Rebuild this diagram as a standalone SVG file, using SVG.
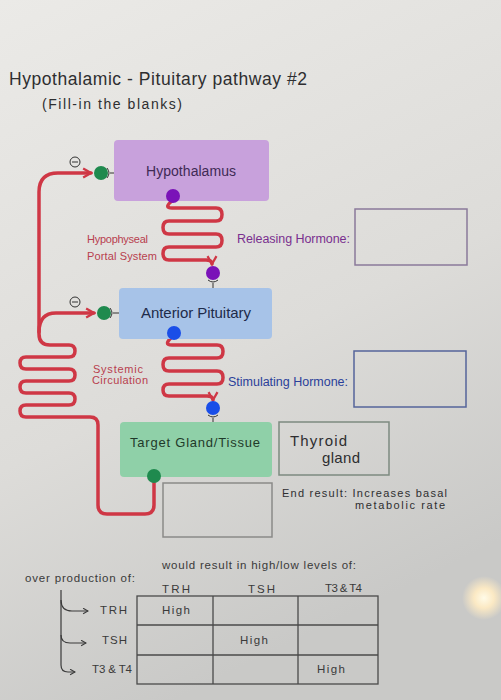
<svg xmlns="http://www.w3.org/2000/svg" width="501" height="700" viewBox="0 0 501 700">
<defs>
<linearGradient id="bg" x1="0" y1="0" x2="0.35" y2="1">
<stop offset="0" stop-color="#ebeae7"/>
<stop offset="0.6" stop-color="#dddcd9"/>
<stop offset="1" stop-color="#c9c9c7"/>
</linearGradient>
<radialGradient id="glare">
<stop offset="0" stop-color="#fffbe8"/>
<stop offset="0.45" stop-color="#fbe9c4"/>
<stop offset="1" stop-color="#fbe9c4" stop-opacity="0"/>
</radialGradient>
<marker id="arr" viewBox="0 0 10 10" refX="8" refY="5" markerWidth="3.2" markerHeight="3.2" orient="auto" markerUnits="strokeWidth">
<polyline points="1,1 8,5 1,9" fill="none" stroke="#cf3745" stroke-width="2"/>
</marker>
<marker id="arrk" viewBox="0 0 10 10" refX="8" refY="5" markerWidth="7" markerHeight="7" orient="auto" markerUnits="userSpaceOnUse">
<polyline points="1,1 8,5 1,9" fill="none" stroke="#3a3a3a" stroke-width="1.5"/>
</marker>
</defs>
<style>
text{font-family:"Liberation Sans","Open Sans",sans-serif;}
.red{fill:none;stroke:#cf3745;stroke-width:3.5;stroke-linecap:round;stroke-linejoin:round;}
.blk{fill:#2e2e30;}
.rlab{fill:#b8404e;font-size:11px;}
.blank{fill:none;stroke-width:1.5;}
.grid{fill:none;stroke:#4a4a4a;stroke-width:1.3;}
.tbl{fill:#3a3a3a;font-size:11.5px;}
.rec{fill:none;stroke:#333;stroke-width:1;}
</style>
<rect width="501" height="700" fill="url(#bg)"/>
<circle cx="484" cy="598" r="22" fill="url(#glare)"/>

<g id="title">
<text x="9" y="85" class="blk" font-size="17.5" textLength="298">Hypothalamic - Pituitary pathway #2</text>
<text x="42" y="109" class="blk" font-size="14" textLength="140">(Fill-in the blanks)</text>
</g>

<g id="connectors">
<path class="red" marker-end="url(#arr)" d="M173 200 Q163 208 172 208 L216 208 Q222 208 222 214.5 Q222 221 216 221 L169 221 Q163 221 163 227.5 Q163 234 169 234 L216 234 Q222 234 222 240.5 Q222 247 216 247 L169 247 Q163 247 163 253.5 Q163 260 169 260 L206 260 Q212 260 212 264"/>
<path class="red" marker-end="url(#arr)" d="M172 337 Q163 345 172 345 L217 345 Q223 345 223 351.5 Q223 358 217 358 L169 358 Q163 358 163 364.5 Q163 371 169 371 L217 371 Q223 371 223 377.5 Q223 384 217 384 L169 384 Q163 384 163 390 Q163 396 169 396 L207 396 Q213 396 213 400"/>
<path class="red" marker-end="url(#arr)" d="M154 482 L154 505 Q154 514 145 514 L107 514 Q98 514 98 505 L98 425 Q98 417 90 417 L26 417 Q20 417 20 411 Q20 405 26 405 L69 405 Q75 405 75 399 Q75 393 69 393 L26 393 Q20 393 20 387 Q20 381 26 381 L69 381 Q75 381 75 375 Q75 369 69 369 L26 369 Q20 369 20 363 Q20 357 26 357 L69 357 Q75 357 75 351 Q75 345 69 345 L50 345 Q39 345 39 334 L39 192 Q39 173 58 173 L91 173"/>
<path class="red" marker-end="url(#arr)" d="M39 332 Q39 313 56 313 L94 313"/>
</g>

<g id="hypothalamus">
<rect x="114" y="140" width="155" height="61" rx="4" fill="#c8a1dc"/>
<text x="191" y="176" text-anchor="middle" font-size="14" fill="#3f2a55" textLength="90">Hypothalamus</text>
<circle cx="173" cy="196" r="7" fill="#7a12b8"/>
<circle cx="101" cy="173" r="7" fill="#1f8a4e"/>
<path class="rec" d="M107 168 Q111 173 107 178 M110 173 L114 173"/>
<circle cx="75" cy="162" r="5" class="rec"/>
<line x1="72" y1="162" x2="78" y2="162" stroke="#333" stroke-width="1"/>
</g>

<g id="portal-label">
<text x="87" y="243" class="rlab" textLength="61">Hypophyseal</text>
<text x="87" y="260" class="rlab" textLength="70">Portal System</text>
</g>

<g id="releasing">
<text x="237" y="243" font-size="12.5" fill="#7a2f8f" textLength="113">Releasing Hormone:</text>
<rect x="355" y="209" width="112" height="56" class="blank" stroke="#8a7a9a"/>
</g>

<g id="anterior-pituitary">
<circle cx="213" cy="273" r="7" fill="#7a12b8"/>
<path class="rec" d="M208 280 Q213 284 218 280 M213 283 L213 289"/>
<rect x="119" y="288" width="153" height="51" rx="4" fill="#a7c3e8"/>
<text x="196" y="318" text-anchor="middle" font-size="15" fill="#1e2b4a" textLength="110">Anterior Pituitary</text>
<circle cx="174" cy="333" r="7" fill="#1a4ee8"/>
<circle cx="104" cy="313" r="7" fill="#1f8a4e"/>
<path class="rec" d="M110 308 Q114 313 110 318 M113 313 L119 313"/>
<circle cx="75" cy="302" r="5" class="rec"/>
<line x1="72" y1="302" x2="78" y2="302" stroke="#333" stroke-width="1"/>
</g>

<g id="systemic-label">
<text x="93" y="373" class="rlab" textLength="50">Systemic</text>
<text x="92" y="384" class="rlab" textLength="56">Circulation</text>
</g>

<g id="stimulating">
<text x="228" y="386" font-size="12.5" fill="#2b3f9a" textLength="120">Stimulating Hormone:</text>
<rect x="354" y="351" width="112" height="56" class="blank" stroke="#55649a"/>
</g>

<g id="target-gland">
<circle cx="213" cy="408" r="7" fill="#1a4ee8"/>
<path class="rec" d="M208 415 Q213 419 218 415 M213 418 L213 422"/>
<rect x="120" y="422" width="152" height="55" rx="4" fill="#8fd0a8"/>
<text x="130" y="447" font-size="13" fill="#1f3a2a" textLength="130">Target Gland/Tissue</text>
<circle cx="154" cy="476" r="7" fill="#1f8a4e"/>
</g>

<g id="thyroid">
<rect x="279" y="422" width="110" height="53" class="blank" stroke="#7d8a80"/>
<text x="290" y="446" class="blk" font-size="15" textLength="57">Thyroid</text>
<text x="322" y="463" class="blk" font-size="15" textLength="38">gland</text>
</g>

<g id="blank-box">
<rect x="163" y="483" width="109" height="54" class="blank" stroke="#8a8a88"/>
</g>

<g id="end-result">
<text x="282" y="497" class="blk" font-size="11" textLength="165">End result:  Increases basal</text>
<text x="355" y="509" class="blk" font-size="11" textLength="90">metabolic rate</text>
</g>

<g id="table">
<text x="162" y="569" class="tbl" font-size="10.5" textLength="194">would result in high/low levels of:</text>
<text x="25" y="582" class="tbl" font-size="11" textLength="110">over production of:</text>
<text x="162" y="593" class="tbl" textLength="28">TRH</text>
<text x="248" y="593" class="tbl" textLength="27">TSH</text>
<text x="325" y="592" class="tbl" font-size="10.5" textLength="37">T3 &amp; T4</text>
<rect x="137" y="596" width="241" height="88" class="grid"/>
<line x1="137" y1="625" x2="378" y2="625" class="grid"/>
<line x1="137" y1="655" x2="378" y2="655" class="grid"/>
<line x1="213" y1="596" x2="213" y2="684" class="grid"/>
<line x1="298" y1="596" x2="298" y2="684" class="grid"/>
<text x="162" y="614" class="tbl" textLength="28">High</text>
<text x="240" y="644" class="tbl" textLength="28">High</text>
<text x="317" y="673" class="tbl" textLength="28">High</text>
<path d="M61 590 L61 665 Q61 672 68 672 L75 672" fill="none" stroke="#3a3a3a" stroke-width="1.2" marker-end="url(#arrk)"/>
<path d="M61 600 Q61 611 72 611 L88 611" fill="none" stroke="#3a3a3a" stroke-width="1.2" marker-end="url(#arrk)"/>
<path d="M61 635 Q61 643 70 643 L86 643" fill="none" stroke="#3a3a3a" stroke-width="1.2" marker-end="url(#arrk)"/>
<text x="100" y="614" class="tbl" textLength="27">TRH</text>
<text x="102" y="644" class="tbl" textLength="25">TSH</text>
<text x="92" y="673" class="tbl" font-size="10.5" textLength="40">T3 &amp; T4</text>
</g>
</svg>
